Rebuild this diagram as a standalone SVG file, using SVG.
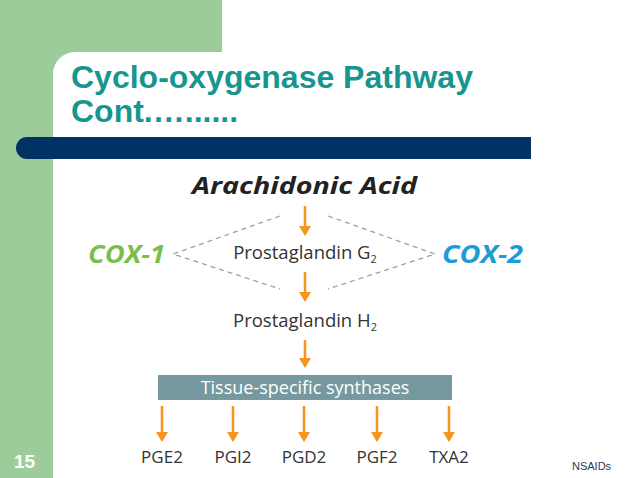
<svg xmlns="http://www.w3.org/2000/svg" width="638" height="478" viewBox="0 0 638 478">
<defs>
<style>
.t{font-family:"Liberation Sans",Arial,sans-serif;font-weight:bold;fill:#17958f;font-size:32px}
.d{font-family:"Open Sans","Noto Sans",sans-serif;fill:#333}
.arr{stroke:#f7931e;stroke-width:2.5;fill:none}
.dash{stroke:#a0a0a0;stroke-width:1.3;stroke-dasharray:5,4;fill:none}
.lab{font-size:17px;text-anchor:middle}
</style>
<marker id="ah" viewBox="0 0 10 12" refX="8" refY="6" markerWidth="10" markerHeight="12" markerUnits="userSpaceOnUse" orient="auto">
<path d="M0,0 L10,6 L0,12 Z" fill="#f7931e"/>
</marker>
</defs>
<rect width="638" height="478" fill="#fff"/>
<g id="background">
<rect x="0" y="0" width="53" height="478" fill="#9dcc9b"/>
<rect x="0" y="0" width="222" height="52" fill="#9dcc9b"/>
<path d="M53,52 L75,52 A22,22 0 0 0 53,74 Z" fill="#9dcc9b"/>
<path d="M27,137 L531,137 L531,159 L27,159 A11,11 0 0 1 27,137 Z" fill="#003363"/>
<text x="71" y="88" class="t">Cyclo-oxygenase Pathway</text>
<text x="71" y="122" class="t">Cont.…......</text>
<text x="14" y="468" font-family="Liberation Sans,Arial,sans-serif" font-weight="bold" font-size="19" fill="#fff">15</text>
<text x="572" y="470" font-family="Liberation Sans,Arial,sans-serif" font-size="11" fill="#2d3b55">NSAIDs</text>
</g>
<g id="connectors">
<line class="arr" x1="305" y1="206" x2="305" y2="234" marker-end="url(#ah)"/>
<line class="arr" x1="305" y1="272" x2="305" y2="300" marker-end="url(#ah)"/>
<line class="arr" x1="305" y1="340" x2="305" y2="366" marker-end="url(#ah)"/>
<line class="arr" x1="162" y1="406" x2="162" y2="440" marker-end="url(#ah)"/>
<line class="arr" x1="233" y1="406" x2="233" y2="440" marker-end="url(#ah)"/>
<line class="arr" x1="304" y1="406" x2="304" y2="440" marker-end="url(#ah)"/>
<line class="arr" x1="377" y1="406" x2="377" y2="440" marker-end="url(#ah)"/>
<line class="arr" x1="449" y1="406" x2="449" y2="440" marker-end="url(#ah)"/>
<path class="dash" d="M280,216 L173,254 L280,289"/>
<path class="dash" d="M328,216 L435,254 L328,289"/>
</g>
<g id="arachidonic">
<text x="192" y="194" class="d" font-size="24" font-weight="bold" font-style="italic" textLength="225" lengthAdjust="spacingAndGlyphs" style="fill:#222">Arachidonic Acid</text>
</g>
<g id="cox1">
<text x="88" y="263" class="d" font-size="25" font-weight="bold" font-style="italic" textLength="77" lengthAdjust="spacingAndGlyphs" style="fill:#7bbf4b">COX-1</text>
</g>
<g id="cox2">
<text x="442" y="263" class="d" font-size="25" font-weight="bold" font-style="italic" textLength="81" lengthAdjust="spacingAndGlyphs" style="fill:#1b9bd7">COX-2</text>
</g>
<g id="pgg2">
<text x="305" y="259" class="d" font-size="18.5" text-anchor="middle">Prostaglandin G<tspan font-size="11" dy="4">2</tspan></text>
</g>
<g id="pgh2">
<text x="305" y="327" class="d" font-size="18.5" text-anchor="middle">Prostaglandin H<tspan font-size="11" dy="4">2</tspan></text>
</g>
<g id="synthases">
<rect x="158" y="375" width="294" height="25" fill="#76999f"/>
<text x="305" y="394" class="d" font-size="18" text-anchor="middle" style="fill:#fff">Tissue-specific synthases</text>
</g>
<g id="pge2"><text x="162" y="463" class="d lab">PGE2</text></g>
<g id="pgi2"><text x="233" y="463" class="d lab">PGI2</text></g>
<g id="pgd2"><text x="304" y="463" class="d lab">PGD2</text></g>
<g id="pgf2"><text x="377" y="463" class="d lab">PGF2</text></g>
<g id="txa2"><text x="449" y="463" class="d lab">TXA2</text></g>
</svg>
